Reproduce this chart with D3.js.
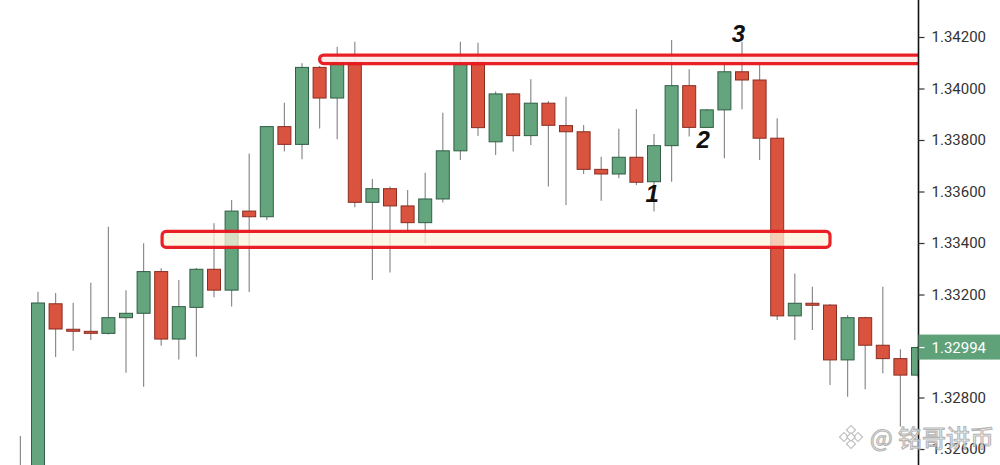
<!DOCTYPE html>
<html>
<head>
<meta charset="utf-8">
<script src="https://cdn.jsdelivr.net/npm/d3@7"></script>
<style>
  html, body { margin: 0; padding: 0; background: #fff; }
  svg { display: block; }
</style>
</head>
<body>
<svg id="chart" width="1000" height="465"></svg>
<script>
// ---------- data ----------
const candleIndex = d3.range(-1, 51);
const opens = [1.32402,1.32324,1.33164,1.33065,1.33057,1.33049,1.33110,1.33127,1.33289,1.33027,
  1.33150,1.33298,1.33217,1.33524,1.33502,1.33852,1.33783,1.34082,1.33963,1.34102,
  1.33558,1.33611,1.33544,1.33479,1.33571,1.33758,1.34103,1.33793,1.33979,1.33817,
  1.33943,1.33856,1.33832,1.33686,1.33668,1.33733,1.33638,1.33778,1.34011,1.33849,
  1.33917,1.34065,1.34033,1.33807,1.33117,1.33166,1.33159,1.32946,1.33110,1.33003,
  1.32951,1.32887];
const closes = [1.32520,1.33167,1.33066,1.33058,1.33050,1.33110,1.33127,1.33289,1.33027,1.33153,
  1.33298,1.33217,1.33524,1.33502,1.33852,1.33783,1.34082,1.33963,1.34102,1.33558,
  1.33611,1.33544,1.33479,1.33571,1.33758,1.34095,1.33848,1.33979,1.33817,1.33943,
  1.33857,1.33832,1.33686,1.33668,1.33733,1.33636,1.33778,1.34011,1.33849,1.33917,
  1.34065,1.34033,1.33807,1.33117,1.33166,1.33160,1.32946,1.33110,1.33003,1.32951,
  1.32887,1.32994];
const highs = [1.32651,1.33211,1.33206,1.33168,1.33246,1.33463,1.33217,1.33399,1.33302,1.33256,
  1.33303,1.33477,1.33567,1.33748,1.33854,1.33945,1.34098,1.34087,1.34162,1.34182,
  1.33649,1.33619,1.33606,1.33673,1.33906,1.34182,1.34178,1.33988,1.33983,1.34036,
  1.33951,1.33968,1.33858,1.33735,1.33844,1.33920,1.33823,1.34188,1.34075,1.33920,
  1.34100,1.34182,1.34091,1.33884,1.33282,1.33230,1.33163,1.33120,1.33114,1.33230,
  1.32987,1.33000];
const lows = [1.32380,1.32300,1.32957,1.32982,1.33023,1.33045,1.32896,1.32842,1.33001,1.32948,
  1.32958,1.33189,1.33153,1.33210,1.33489,1.33755,1.33725,1.33845,1.33803,1.33539,
  1.33256,1.33285,1.33443,1.33399,1.33557,1.33722,1.33816,1.33742,1.33755,1.33781,
  1.33619,1.33548,1.33668,1.33564,1.33651,1.33625,1.33522,1.33638,1.33814,1.33847,
  1.33729,1.33919,1.33722,1.33101,1.33023,1.33062,1.32849,1.32803,1.32832,1.32894,
  1.32687,1.32880];

const tickValues = [1.326, 1.328, 1.332, 1.334, 1.336, 1.338, 1.340, 1.342];
const lastPrice = 1.32994;
const lastPriceLabel = "1.32994";

// annotation zones: [startIndex, endIndex, lowPrice, highPrice]
const resistanceZone = [16.0, 52, 1.34097, 1.34130];
const supportZone = [7.05, 45.0, 1.33383, 1.33445];
const waveLabels = ["1", "2", "3"];
const waveLabelIdx = [34.9, 37.8, 39.8];
const waveLabelPrice = [1.33559, 1.33769, 1.34181];
const watermarkText = "@ 铭哥讲币";

// ---------- layout ----------
const W = 1000, H = 465, axisX = 918.5;
const svg = d3.select("#chart");

const x = d3.scaleLinear().domain([0, 50]).range([38, 918]);
const y = d3.scaleLinear().domain([1.325379, 1.343437]).range([H, 0]);

const candles = candleIndex.map((i, k) => ({
  i, o: opens[k], c: closes[k], h: highs[k], l: lows[k]
}));

svg.append("defs").append("clipPath").attr("id", "plot")
  .append("rect").attr("x", 0).attr("y", 0).attr("width", axisX).attr("height", H);

const plot = svg.append("g").attr("clip-path", "url(#plot)");

const GREEN = "#64a57d", GREEN_D = "#2f5e44";
const RED = "#d9533f", RED_D = "#8a2e22";
const bodyW = 13;

// wicks
plot.append("g").selectAll("line").data(candles).join("line")
  .attr("x1", d => x(d.i)).attr("x2", d => x(d.i))
  .attr("y1", d => y(d.h)).attr("y2", d => y(d.l))
  .attr("stroke", "#8c8c8c").attr("stroke-width", 1.2);

// bodies
plot.append("g").selectAll("rect").data(candles).join("rect")
  .attr("x", d => x(d.i) - bodyW / 2)
  .attr("y", d => y(Math.max(d.o, d.c)))
  .attr("width", bodyW)
  .attr("height", d => Math.max(2, Math.abs(y(d.o) - y(d.c))))
  .attr("fill", d => d.c >= d.o ? GREEN : RED)
  .attr("stroke", d => d.c >= d.o ? GREEN_D : RED_D)
  .attr("stroke-width", 1);

// zones
function zone(z, fill) {
  const x0 = x(z[0]), x1 = x(z[1]);
  const y0 = y(z[3]), y1 = y(z[2]);
  plot.append("rect")
    .attr("x", x0).attr("y", y0).attr("width", x1 - x0).attr("height", y1 - y0)
    .attr("rx", 4).attr("ry", 4)
    .attr("fill", fill)
    .attr("stroke", "#e8141a").attr("stroke-width", 3.2)
    .attr("stroke-opacity", 0.95);
}
zone(resistanceZone, "rgba(255,232,232,0.9)");
zone(supportZone, "rgba(255,244,222,0.75)");

// wave labels
svg.append("g").selectAll("text").data(waveLabels).join("text")
  .attr("x", (d, k) => x(waveLabelIdx[k]))
  .attr("y", (d, k) => y(waveLabelPrice[k]))
  .attr("text-anchor", "middle")
  .attr("font-family", "Liberation Sans, Arial, sans-serif")
  .attr("font-weight", "bold").attr("font-style", "italic")
  .attr("font-size", 24).attr("fill", "#111")
  .text(d => d);

// ---------- axis ----------
const axis = d3.axisRight(y).tickValues(tickValues).tickSize(6).tickPadding(7)
  .tickFormat(d3.format(".5f"));
const ag = svg.append("g").attr("transform", `translate(${axisX},0)`).call(axis);
ag.select(".domain").attr("stroke", "#111").attr("stroke-width", 1.6)
  .attr("d", `M0,0V${H}`);
ag.selectAll(".tick line").attr("stroke", "#333").attr("stroke-width", 1.2);
ag.selectAll(".tick text")
  .attr("font-family", "Roboto, 'Liberation Sans', sans-serif")
  .attr("font-size", 15).attr("fill", "#333");

// last price label
const lp = svg.append("g").attr("transform", `translate(${axisX},${y(lastPrice)})`);
lp.append("rect").attr("x", 0).attr("y", -13).attr("width", W - axisX).attr("height", 25)
  .attr("fill", "#5fa27a");
lp.append("line").attr("x1", 1).attr("x2", 6).attr("y1", 0).attr("y2", 0)
  .attr("stroke", "#fff").attr("stroke-width", 1.2);
lp.append("text").attr("x", 13).attr("y", 0).attr("dy", "0.35em")
  .attr("font-family", "Roboto, 'Liberation Sans', sans-serif")
  .attr("font-size", 15).attr("fill", "#fff").text(lastPriceLabel);

// ---------- watermark ----------
const wm = svg.append("g").attr("opacity", 0.85);
const lg = wm.append("g").attr("transform", "translate(851,437)");
[[0,-7,3.2],[-7,0,3.2],[7,0,3.2],[0,7,3.2],[0,0,3]].forEach(p => {
  lg.append("rect").attr("x", p[0] - p[2]).attr("y", p[1] - p[2])
    .attr("width", p[2] * 2).attr("height", p[2] * 2)
    .attr("transform", `rotate(45 ${p[0]} ${p[1]})`)
    .attr("fill", "#fff").attr("stroke", "#b5b5b5").attr("stroke-width", 1.2);
});
wm.append("text").attr("x", 870).attr("y", 447)
  .attr("font-family", "'Noto Sans CJK SC', sans-serif")
  .attr("font-size", 24).attr("fill", "#fff")
  .attr("stroke", "#a8a8a8").attr("stroke-width", 1.1)
  .text(watermarkText);
</script>
</body>
</html>
